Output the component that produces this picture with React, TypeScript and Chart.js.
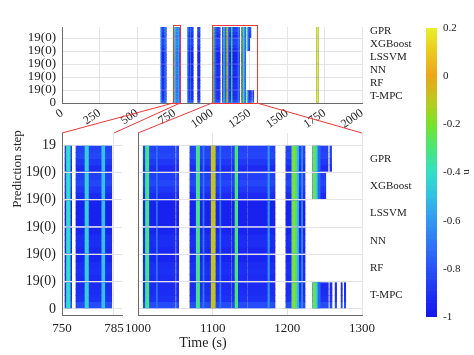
import React, { useEffect, useRef } from 'react';
import { Chart, registerables } from 'chart.js';

Chart.register(...registerables);

// ---------------- data ----------------
const MODELS = ['T-MPC', 'RF', 'NN', 'LSSVM', 'XGBoost', 'GPR']; // bottom -> top
const STEP_TICKS = [0, 20, 40, 60, 80, 100, 120];
const MODEL_TICKS = [10, 30, 50, 70, 90, 110];
const TOP_TIME_TICKS = [0, 250, 500, 750, 1000, 1250, 1500, 1750, 2000];
const ZOOM1_TIME_TICKS = [750, 785];
const ZOOM2_TIME_TICKS = [1000, 1100, 1200, 1300];
const U_TICKS = [-1, -0.8, -0.6, -0.4, -0.2, 0, 0.2];

// zoom windows marked in the overview
const ZOOM1_BOX = [742, 788];
const ZOOM2_BOX = [1000, 1300];

// time spans (s) where every model has a prediction
const SPANS_ALL: [number, number][] = [
  [660, 695], [752, 756.5], [759.4, 783.5], [838, 875], [904, 920],
  [1007, 1050], [1051.5, 1054.5], [1069.5, 1124.5], [1125.5, 1146.5], [1147.5, 1183.5],
  [1198, 1223.7], [1698, 1709],
];
const SPANS_TMPC: [number, number][] = [[1234, 1254.9], [1257, 1259.8], [1264, 1266], [1272, 1273.6], [1276.3, 1278.2]];
const SPANS_GPR: [number, number][] = [[1234, 1254.5], [1257, 1259.3]];
const SPANS_XGB: [number, number][] = [[1234, 1251.5]];
const SPANS_EXTRA: [number, number][][] = [SPANS_TMPC, [], [], [], SPANS_XGB, SPANS_GPR];

// background u for step bands 0-4, 5-9, 10-14, 15-19
const BAND_TMPC = [-0.82, -0.9, -0.92, -0.93];
const BAND_RF = [-0.93, -0.91, -0.92, -0.95];
const BAND_NN = [-0.94, -0.92, -0.92, -0.95];
const BAND_LSSVM = [-0.96, -0.96, -0.96, -0.96];
const BAND_XGB = [-0.93, -0.88, -0.84, -0.86];
const BAND_GPR = [-0.93, -0.88, -0.84, -0.85];
const BANDS = [BAND_TMPC, BAND_RF, BAND_NN, BAND_LSSVM, BAND_XGB, BAND_GPR];

// vertical stripes [start, end, u] seen in every model
const STRIPES_ALL: [number, number, number][] = [
  [686, 688, -0.6], [660, 661.5, -0.6], [838, 840, -0.55], [856, 858, -0.7],
  [753, 755.5, -0.42], [765.5, 767.8, -0.45], [776.8, 778.8, -0.5],
  [1010, 1014.5, -0.32], [1024.5, 1026, -0.72],
  [1078, 1082.5, -0.32], [1087, 1088.5, -0.7], [1098, 1103.5, -0.09], [1109.5, 1111, -0.7],
  [1130, 1133.5, -0.3], [1174, 1176, -0.62],
  [1206, 1208, -0.26], [1208, 1211, -0.16], [1211, 1213, -0.28], [1213, 1215, -0.5], [1219, 1220.5, -0.65],
  [1698, 1709, 0.2],
];
const STRIPES_LATE: [number, number, number][] = [[1234.5, 1238.5, -0.24], [1238.5, 1241, -0.45], [1241, 1244, -0.75]];
const STRIPES_EXTRA: [number, number, number][][] = [STRIPES_LATE, [], [], [], STRIPES_LATE, STRIPES_LATE];

// ---------------- style ----------------
const FONT = '"Liberation Serif", "Times New Roman", serif';
const TEXT = '#222222';
const GRID = '#e4e4e4';
const AXIS = '#6a6a6a';
const RED = 'rgb(240, 55, 55)';

const CMAP: [number, number, number, number][] = [
  [-1.0, 22, 22, 235],
  [-0.9, 30, 50, 245],
  [-0.8, 40, 82, 250],
  [-0.7, 45, 118, 245],
  [-0.6, 50, 152, 240],
  [-0.5, 50, 192, 228],
  [-0.4, 52, 224, 196],
  [-0.3, 72, 230, 120],
  [-0.2, 122, 226, 42],
  [-0.1, 190, 200, 30],
  [0.0, 235, 165, 25],
  [0.1, 236, 202, 30],
  [0.2, 232, 240, 40],
];
function uColor(u: number): string {
  const v = Math.max(-1, Math.min(0.2, u));
  for (let i = 0; i < CMAP.length - 1; i++) {
    const a = CMAP[i], b = CMAP[i + 1];
    if (v <= b[0]) {
      const t = (v - a[0]) / (b[0] - a[0]);
      const c = [1, 2, 3].map((k) => Math.round(a[k] + (b[k] - a[k]) * t));
      return `rgb(${c[0]},${c[1]},${c[2]})`;
    }
  }
  const l = CMAP[CMAP.length - 1];
  return `rgb(${l[1]},${l[2]},${l[3]})`;
}

const GAP = 0.75;
const NBANDS = 4;
const BLOCK = 20;
const BAND_H = (BLOCK - 2 * GAP) / NBANDS;
const bandY = (m: number, b: number) => m * BLOCK + GAP + BAND_H * (b + 0.5);

function buildCells(lo: number, hi: number) {
  const base: any[] = [];
  const stripes: any[] = [];
  MODELS.forEach((_, m) => {
    const spans = SPANS_ALL.concat(SPANS_EXTRA[m]);
    const st = STRIPES_ALL.concat(STRIPES_EXTRA[m]);
    for (let b = 0; b < NBANDS; b++) {
      const y = bandY(m, b);
      for (const [a, e] of spans) if (e > lo && a < hi) base.push({ x: [a, e], y, u: BANDS[m][b] });
      for (const [a, e, u] of st) if (e > lo && a < hi) stripes.push({ x: [a, e], y, u });
    }
  });
  return { base, stripes };
}

function heatChart(canvas: HTMLCanvasElement, o: any) {
  const { base, stripes } = buildCells(o.xMin, o.xMax);
  const mk = (data: any[], order: number) => ({
    data,
    order,
    backgroundColor: (c: any) => uColor(c.raw ? c.raw.u : -1),
    borderWidth: 0,
    grouped: false,
    barPercentage: 1,
    categoryPercentage: 1,
    clip: 0,
  });
  const scales: any = {
    x: {
      type: 'linear',
      min: o.xMin,
      max: o.xMax,
      afterBuildTicks: (s: any) => { s.ticks = o.xTicks.map((v: number) => ({ value: v })); },
      afterFit: (s: any) => { s.height = o.xHeight; },
      ticks: {
        font: { family: FONT, size: o.xFont }, color: TEXT, padding: o.xPad,
        minRotation: o.rot, maxRotation: o.rot, autoSkip: false,
        callback: (v: number) => String(v),
      },
      grid: { color: GRID, drawTicks: false },
      border: { color: AXIS },
    },
    y: {
      type: 'linear',
      min: o.yMin,
      max: o.yMax,
      offset: false,
      afterBuildTicks: (s: any) => { s.ticks = STEP_TICKS.filter((v) => v <= o.yMax).map((v) => ({ value: v })); },
      afterFit: (s: any) => { s.width = o.yWidth; },
      ticks: {
        display: o.stepLabels, font: { family: FONT, size: o.yFont }, color: TEXT, padding: 6, autoSkip: false,
        callback: (v: number) => (v === 0 ? '0' : v === 120 ? '19' : '19(0)'),
      },
      grid: { color: GRID, drawTicks: false, offset: false },
      border: { color: AXIS },
    },
  };
  if (o.modelLabels) {
    scales.y2 = {
      type: 'linear',
      position: 'right',
      min: o.yMin,
      max: o.yMax,
      offset: false,
      afterBuildTicks: (s: any) => { s.ticks = MODEL_TICKS.map((v) => ({ value: v })); },
      afterFit: (s: any) => { s.width = o.y2Width; },
      ticks: {
        font: { family: FONT, size: 11 }, color: TEXT, padding: 8, autoSkip: false,
        callback: (_v: number, i: number) => MODELS[i],
      },
      grid: { display: false, drawTicks: false, offset: false },
      border: { display: false },
    };
  }
  return new Chart(canvas, {
    type: 'bar',
    // stripes get the lower order so they are painted over the background cells
    data: { datasets: [mk(base, 2), mk(stripes, 1)] as any },
    options: {
      indexAxis: 'y',
      responsive: false,
      animation: false,
      devicePixelRatio: 1,
      events: [],
      layout: { padding: { top: o.padTop, right: o.padRight || 0, left: 0, bottom: 0 } },
      plugins: { legend: { display: false }, tooltip: { enabled: false } },
      scales,
    } as any,
  });
}

function colorbarChart(canvas: HTMLCanvasElement) {
  const n = 120;
  const datasets: any[] = [];
  for (let i = 0; i < n; i++) {
    const lo = -1 + (1.2 * i) / n;
    const hi = -1 + (1.2 * (i + 1)) / n;
    datasets.push({
      data: [[lo, hi]],
      backgroundColor: uColor((lo + hi) / 2),
      borderWidth: 0,
      grouped: false,
      barPercentage: 1,
      categoryPercentage: 1,
      clip: 0,
    });
  }
  return new Chart(canvas, {
    type: 'bar',
    data: { labels: ['u'], datasets },
    options: {
      responsive: false,
      animation: false,
      devicePixelRatio: 1,
      events: [],
      layout: { padding: { top: 28, left: 26, bottom: 38, right: 0 } },
      plugins: { legend: { display: false }, tooltip: { enabled: false } },
      scales: {
        x: { display: false, offset: true },
        y: {
          type: 'linear',
          position: 'right',
          min: -1,
          max: 0.2,
          afterBuildTicks: (s: any) => { s.ticks = U_TICKS.map((v) => ({ value: v })); },
          afterFit: (s: any) => { s.width = 37; },
          ticks: {
            font: { family: FONT, size: 11 }, color: TEXT, padding: 6, autoSkip: false,
            callback: (v: number) => String(Math.round(v * 10) / 10),
          },
          grid: { display: false, drawTicks: false },
          border: { display: false },
        },
      },
    } as any,
  });
}

const TOP_POS = { left: 0, top: 0, w: 420, h: 130 };
const BL_POS = { left: 0, top: 100, w: 140, h: 255 };
const BR_POS = { left: 100, top: 100, w: 330, h: 255 };
const CB_POS = { left: 400, top: 0, w: 74, h: 355 };

export default function App() {
  const topRef = useRef<HTMLCanvasElement>(null);
  const blRef = useRef<HTMLCanvasElement>(null);
  const brRef = useRef<HTMLCanvasElement>(null);
  const cbRef = useRef<HTMLCanvasElement>(null);
  const ovRef = useRef<HTMLCanvasElement>(null);

  useEffect(() => {
    const top = heatChart(topRef.current!, {
      xMin: 0, xMax: 2000, xTicks: TOP_TIME_TICKS, yMin: 0, yMax: 117,
      stepLabels: true, modelLabels: true, rot: 35, xFont: 12, yFont: 13, xPad: 3,
      xHeight: TOP_POS.h - 103, yWidth: 62, y2Width: TOP_POS.w - 362, padTop: 27,
    });
    const bl = heatChart(blRef.current!, {
      xMin: 750, xMax: 790.4, xTicks: ZOOM1_TIME_TICKS, yMin: -4.4, yMax: 128.8,
      stepLabels: true, modelLabels: false, rot: 0, xFont: 13, yFont: 14, xPad: 6,
      xHeight: BL_POS.h - (315 - BL_POS.top), yWidth: 62, padTop: 133 - BL_POS.top, padRight: BL_POS.w - 122,
    });
    const br = heatChart(brRef.current!, {
      xMin: 1000, xMax: 1300, xTicks: ZOOM2_TIME_TICKS, yMin: -4.4, yMax: 128.8,
      stepLabels: false, modelLabels: true, rot: 0, xFont: 13, yFont: 14, xPad: 6,
      xHeight: BR_POS.h - (315 - BR_POS.top), yWidth: 138 - BR_POS.left, y2Width: BR_POS.w - (362 - BR_POS.left),
      padTop: 133 - BR_POS.top,
    });
    const cb = colorbarChart(cbRef.current!);

    // zoom boxes and connector lines, placed through the charts' scales
    const ctx = ovRef.current!.getContext('2d')!;
    ctx.clearRect(0, 0, 474, 355);
    ctx.strokeStyle = RED;
    ctx.lineWidth = 1;
    const tx = (v: number) => top.scales.x.getPixelForValue(v) + TOP_POS.left;
    const ty = (v: number) => top.scales.y.getPixelForValue(v) + TOP_POS.top;
    const y0 = ty(0), y1 = ty(120);
    const line = (a: number, b: number, c: number, d: number) => {
      ctx.beginPath(); ctx.moveTo(a, b); ctx.lineTo(c, d); ctx.stroke();
    };
    for (const [lo, hi] of [ZOOM1_BOX, ZOOM2_BOX]) {
      ctx.strokeRect(Math.round(tx(lo)) + 0.5, Math.round(y1) + 0.5, Math.round(tx(hi) - tx(lo)), Math.round(y0 - y1));
    }
    const blTop = bl.chartArea.top + BL_POS.top;
    const brTop = br.chartArea.top + BR_POS.top;
    line(tx(ZOOM1_BOX[0]), y0, bl.chartArea.left + BL_POS.left, blTop);
    line(tx(ZOOM1_BOX[1]), y0, bl.scales.x.getPixelForValue(ZOOM1_TIME_TICKS[1]) + BL_POS.left, blTop);
    line(tx(ZOOM2_BOX[0]), y0, br.chartArea.left + BR_POS.left, brTop);
    line(tx(ZOOM2_BOX[1]), y0, br.chartArea.right + BR_POS.left, brTop);

    return () => {
      top.destroy(); bl.destroy(); br.destroy(); cb.destroy();
    };
  }, []);

  const abs = (p: any): React.CSSProperties => ({ position: 'absolute', left: p.left, top: p.top });
  return (
    <div style={{ position: 'absolute', left: 0, top: 0, width: 474, height: 355, background: '#fff', overflow: 'hidden', fontFamily: FONT, color: TEXT }}>
      <canvas ref={topRef} width={TOP_POS.w} height={TOP_POS.h} style={abs(TOP_POS)} />
      <canvas ref={blRef} width={BL_POS.w} height={BL_POS.h} style={abs(BL_POS)} />
      <canvas ref={brRef} width={BR_POS.w} height={BR_POS.h} style={abs(BR_POS)} />
      <canvas ref={cbRef} width={CB_POS.w} height={CB_POS.h} style={abs(CB_POS)} />
      <canvas ref={ovRef} width={474} height={355} style={{ position: 'absolute', left: 0, top: 0, pointerEvents: 'none' }} />
      <div style={{ position: 'absolute', left: 17 - 60, top: 169 - 8, width: 120, height: 16, lineHeight: '16px', fontSize: 13, textAlign: 'center', transform: 'rotate(-90deg)', whiteSpace: 'nowrap' }}>Prediction step</div>
      <div style={{ position: 'absolute', left: 203 - 50, top: 343 - 8, width: 100, height: 16, lineHeight: '16px', fontSize: 14, textAlign: 'center', whiteSpace: 'nowrap' }}>Time (s)</div>
      <div style={{ position: 'absolute', left: 465 - 10, top: 172 - 8, width: 20, height: 16, lineHeight: '16px', fontSize: 11, textAlign: 'center', transform: 'rotate(-90deg)' }}>u</div>
    </div>
  );
}
